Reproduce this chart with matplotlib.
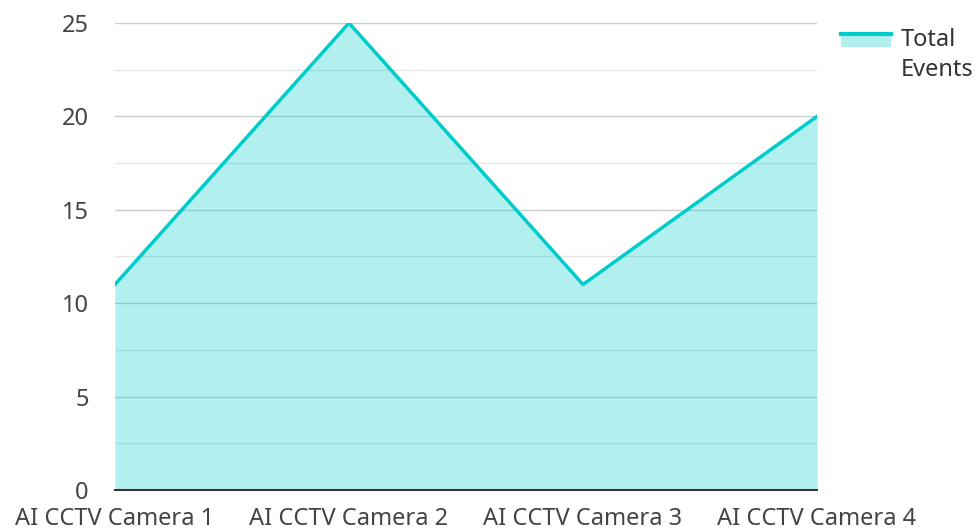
import matplotlib.pyplot as plt
from matplotlib.legend_handler import HandlerBase
from matplotlib.patches import Rectangle
from matplotlib.lines import Line2D
from matplotlib.ticker import MultipleLocator

plt.rcParams['font.family'] = ['Noto Sans', 'DejaVu Sans']

cameras = ['AI CCTV Camera 1', 'AI CCTV Camera 2', 'AI CCTV Camera 3', 'AI CCTV Camera 4']
total_events = [11, 25, 11, 20]
yticks = [0, 5, 10, 15, 20, 25]

line_color = '#00cccc'


class AreaHandler(HandlerBase):
    # legend key: thick line on top of a light fill, lined up with the first text line
    def create_artists(self, legend, orig, xdescent, ydescent, width, height, fontsize, trans):
        top = -ydescent + height * 0.5 + fontsize * 0.62 + 6
        patch = Rectangle((-xdescent, top - 10), width, 10,
                          facecolor=line_color, alpha=0.3, edgecolor='none', transform=trans)
        line = Line2D([-xdescent, -xdescent + width], [top - 1, top - 1], color=line_color,
                      lw=3, transform=trans)
        return [patch, line]


fig = plt.figure(figsize=(9.8, 5.31), dpi=100)
ax = fig.add_axes([0.1173, 0.0772, 0.7164, 0.8795])

x = range(len(cameras))
ax.fill_between(x, total_events, 0, color=line_color, alpha=0.3, lw=0, zorder=2)
ln, = ax.plot(x, total_events, color=line_color, lw=2.5, zorder=3)

ax.set_xlim(0, len(cameras) - 1)
ax.set_ylim(0, 25)
ax.set_xticks(list(x))
ax.set_xticklabels(cameras)
ax.set_yticks(yticks)
ax.yaxis.set_minor_locator(MultipleLocator(2.5))
ax.grid(axis='y', which='major', color='#cccccc', lw=1, zorder=1)
ax.grid(axis='y', which='minor', color='#e6e6e6', lw=1, zorder=1)
ax.set_axisbelow(True)

for s in ['top', 'right', 'left']:
    ax.spines[s].set_visible(False)
ax.spines['bottom'].set_color('#333333')
ax.spines['bottom'].set_linewidth(1.5)
ax.spines['bottom'].set_zorder(4)

ax.tick_params(axis='both', which='both', length=0, labelsize=17, labelcolor='#444444')
ax.tick_params(axis='y', pad=19)
ax.tick_params(axis='x', pad=12)

leg = ax.legend([ln], ['Total\nEvents'], handler_map={Line2D: AreaHandler()},
                loc='upper left', bbox_to_anchor=(0.849, 0.965), bbox_transform=fig.transFigure,
                frameon=False, fontsize=17, handlelength=2.1, handletextpad=0.42,
                labelcolor='#333333', borderaxespad=0, borderpad=0.4)
for t in leg.get_texts():
    t.set_linespacing(1.35)

fig.savefig('out.png', dpi=100)
